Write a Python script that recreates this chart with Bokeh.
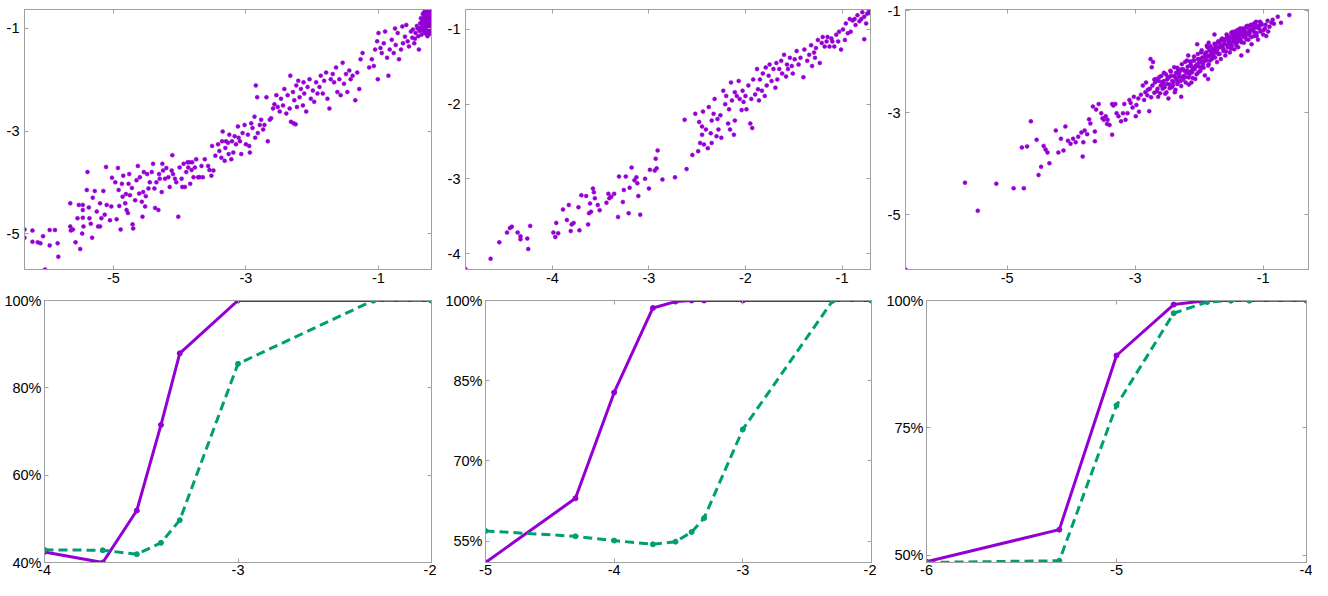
from bokeh.plotting import figure
from bokeh.layouts import column, row
from bokeh.models import Range1d, FixedTicker, LinearAxis, PrintfTickFormatter
from bokeh.embed import file_html
from bokeh.resources import INLINE

PURPLE = "#9400D3"
GREEN = "#009E73"
FRAME = "#a0a0a0"
FONT = "Liberation Sans"

# ---------------- data: top row scatter panels (x, y) ----------------
scatter_left = [
    (-6.34, -4.92), (-6.34, -5.08), (-6.22, -4.94), (-6.22, -5.16), (-6.14, -5.17), (-6.10, -5.19),
    (-6.06, -5.05), (-6.03, -5.70), (-5.96, -4.93), (-5.96, -5.23), (-5.88, -4.93), (-5.84, -5.19),
    (-5.83, -5.45), (-5.65, -4.41), (-5.65, -4.86), (-5.64, -4.94), (-5.61, -4.92), (-5.57, -5.17),
    (-5.54, -4.70), (-5.52, -4.44), (-5.50, -5.30), (-5.46, -4.44), (-5.46, -4.54), (-5.46, -4.69),
    (-5.45, -4.86), (-5.47, -5.00), (-5.40, -4.15), (-5.39, -3.80), (-5.37, -4.49), (-5.36, -4.70),
    (-5.34, -4.81), (-5.32, -5.08), (-5.31, -4.30), (-5.28, -4.17), (-5.25, -4.57), (-5.23, -4.86),
    (-5.20, -4.41), (-5.20, -4.86), (-5.18, -4.70), (-5.15, -4.17), (-5.13, -4.63), (-5.11, -3.70),
    (-5.10, -4.44), (-5.05, -4.74), (-5.03, -4.47), (-5.02, -3.91), (-4.97, -4.00), (-4.95, -4.72),
    (-4.93, -3.72), (-4.92, -4.15), (-4.91, -4.46), (-4.89, -4.92), (-4.87, -4.03), (-4.86, -4.28),
    (-4.85, -3.87), (-4.82, -4.41), (-4.81, -4.23), (-4.80, -4.54), (-4.78, -4.60), (-4.77, -4.03),
    (-4.76, -3.84), (-4.75, -4.25), (-4.72, -4.11), (-4.71, -4.82), (-4.70, -4.90), (-4.67, -4.35),
    (-4.65, -3.96), (-4.63, -3.68), (-4.61, -4.22), (-4.60, -3.90), (-4.57, -4.38), (-4.56, -4.67),
    (-4.55, -4.19), (-4.54, -3.80), (-4.52, -4.47), (-4.51, -4.27), (-4.49, -3.84), (-4.47, -4.12),
    (-4.45, -4.00), (-4.42, -3.80), (-4.40, -3.64), (-4.38, -4.12), (-4.37, -4.50), (-4.35, -4.00),
    (-4.32, -4.54), (-4.31, -3.84), (-4.30, -3.93), (-4.27, -4.19), (-4.26, -3.64), (-4.25, -3.77),
    (-4.22, -3.93), (-4.20, -3.72), (-4.17, -3.90), (-4.15, -4.09), (-4.12, -3.77), (-4.11, -3.47),
    (-4.10, -3.84), (-4.07, -3.93), (-4.05, -4.00), (-4.02, -4.67), (-4.00, -3.71), (-3.97, -3.93),
    (-3.96, -4.09), (-3.94, -3.64), (-3.92, -4.09), (-3.90, -3.80), (-3.88, -3.61), (-3.87, -3.71),
    (-3.85, -3.61), (-3.84, -4.03), (-3.82, -3.76), (-3.81, -3.61), (-3.79, -3.90), (-3.77, -3.71),
    (-3.75, -3.55), (-3.72, -3.90), (-3.70, -3.90), (-3.67, -3.68), (-3.65, -3.90), (-3.62, -3.55),
    (-3.57, -3.68), (-3.55, -3.76), (-3.52, -3.87), (-3.51, -3.29), (-3.49, -3.77), (-3.46, -3.48),
    (-3.42, -3.26), (-3.40, -3.39), (-3.37, -3.52), (-3.36, -3.20), (-3.35, -3.01), (-3.32, -3.58),
    (-3.31, -3.33), (-3.30, -3.20), (-3.27, -3.23), (-3.26, -3.45), (-3.25, -3.07), (-3.22, -3.55),
    (-3.21, -3.20), (-3.19, -3.42), (-3.17, -3.10), (-3.15, -3.26), (-3.12, -2.91), (-3.11, -3.13),
    (-3.09, -3.20), (-3.07, -3.45), (-3.05, -3.04), (-3.02, -2.88), (-3.00, -3.26), (-2.97, -3.07),
    (-2.95, -3.29), (-2.94, -3.42), (-2.92, -2.85), (-2.90, -2.94), (-2.87, -2.72), (-2.86, -3.13),
    (-2.85, -2.11), (-2.83, -2.34), (-2.82, -3.04), (-2.79, -2.88), (-2.77, -2.78), (-2.74, -2.97),
    (-2.72, -2.88), (-2.69, -2.34), (-2.67, -3.20), (-2.64, -2.78), (-2.62, -2.75), (-2.59, -2.56),
    (-2.57, -2.48), (-2.54, -2.30), (-2.52, -2.53), (-2.49, -2.62), (-2.47, -2.37), (-2.44, -2.50),
    (-2.42, -2.18), (-2.39, -2.66), (-2.37, -2.30), (-2.34, -2.56), (-2.33, -1.92), (-2.32, -2.82),
    (-2.29, -2.24), (-2.28, -2.85), (-2.27, -2.40), (-2.25, -2.87), (-2.24, -2.11), (-2.23, -2.53),
    (-2.21, -2.02), (-2.19, -2.34), (-2.17, -2.18), (-2.14, -2.50), (-2.13, -2.05), (-2.12, -2.27),
    (-2.09, -2.62), (-2.07, -2.14), (-2.04, -1.99), (-2.02, -2.37), (-1.99, -2.21), (-1.97, -2.43),
    (-1.94, -2.05), (-1.92, -2.27), (-1.89, -2.14), (-1.87, -1.92), (-1.84, -2.27), (-1.82, -2.02),
    (-1.79, -1.86), (-1.77, -2.37), (-1.74, -2.56), (-1.72, -1.99), (-1.69, -1.89), (-1.67, -2.05),
    (-1.64, -1.76), (-1.62, -2.24), (-1.59, -1.99), (-1.57, -2.30), (-1.54, -1.67), (-1.52, -2.08),
    (-1.49, -1.89), (-1.47, -2.24), (-1.44, -1.82), (-1.42, -1.99), (-1.39, -1.92), (-1.35, -2.40),
    (-1.32, -1.86), (-1.29, -2.18), (-1.27, -1.60), (-1.24, -1.48), (-1.14, -1.76), (-1.10, -1.60),
    (-1.07, -1.73), (-1.05, -1.41), (-1.02, -1.25), (-1.01, -1.99), (-1.00, -1.09), (-0.97, -1.38),
    (-0.95, -1.48), (-0.92, -1.29), (-0.90, -1.06), (-0.87, -1.57), (-0.85, -1.92), (-0.83, -1.41),
    (-0.80, -1.22), (-0.77, -1.48), (-0.75, -1.00), (-0.74, -1.32), (-0.71, -1.09), (-0.69, -1.60),
    (-0.66, -1.41), (-0.64, -0.96), (-0.63, -1.29), (-0.60, -1.16), (-0.58, -0.93), (-0.56, -1.25),
    (-0.54, -1.35), (-0.51, -1.06), (-0.49, -1.18), (-0.46, -1.29), (-0.44, -1.09), (-0.41, -1.00),
    (-0.39, -1.41), (-0.34, -0.85), (-0.33, -0.95), (-0.32, -1.05), (-0.31, -0.78), (-0.30, -0.90),
    (-0.30, -1.00), (-0.29, -0.70), (-0.29, -1.10), (-0.28, -0.82), (-0.28, -0.95), (-0.27, -0.65),
    (-0.27, -0.75), (-0.27, -1.02), (-0.26, -0.88), (-0.26, -0.68), (-0.25, -0.80), (-0.25, -0.93),
    (-0.25, -1.12), (-0.24, -0.72), (-0.24, -0.85), (-0.24, -0.98), (-0.23, -0.66), (-0.23, -0.78),
    (-0.23, -0.90), (-0.23, -1.05), (-0.22, -0.70), (-0.22, -0.83), (-0.22, -0.96), (-0.22, -0.64),
    (-0.21, -0.75), (-0.21, -0.88), (-0.21, -1.00), (-0.21, -0.67), (-0.35, -1.12), (-0.36, -0.98),
    (-0.37, -0.90), (-0.38, -1.05), (-0.32, -0.70), (-0.26, -1.15), (-0.30, -0.64),
    (-0.36, -0.80), (-0.34, -1.02), (-0.33, -0.72), (-0.31, -0.88), (-0.31, -1.08), (-0.30, -0.76),
    (-0.29, -0.84), (-0.29, -0.96), (-0.28, -0.68), (-0.28, -1.06), (-0.27, -0.86), (-0.26, -0.75),
    (-0.26, -0.98), (-0.25, -0.66), (-0.25, -0.86), (-0.24, -0.78), (-0.24, -1.08), (-0.23, -0.72),
    (-0.23, -0.95), (-0.22, -0.77), (-0.22, -1.10), (-0.21, -0.82), (-0.21, -0.94), (-0.40, -1.15),
    (-0.42, -0.95), (-0.45, -1.20), (-0.48, -1.02),
]

scatter_mid = [
    (-4.90, -4.21), (-4.64, -4.07), (-4.55, -3.85), (-4.47, -3.72), (-4.44, -3.66), (-4.42, -3.64),
    (-4.36, -3.72), (-4.33, -3.77), (-4.33, -3.81), (-4.26, -3.80), (-4.25, -3.94), (-4.23, -3.63),
    (-3.99, -3.72), (-3.97, -3.78), (-3.96, -3.59), (-3.94, -3.73), (-3.89, -3.41), (-3.85, -3.55),
    (-3.83, -3.35), (-3.81, -3.70), (-3.80, -3.61), (-3.78, -3.59), (-3.73, -3.38), (-3.72, -3.69),
    (-3.70, -3.22), (-3.65, -3.23), (-3.63, -3.61), (-3.62, -3.46), (-3.61, -3.33), (-3.60, -3.44),
    (-3.58, -3.13), (-3.57, -3.18), (-3.56, -3.26), (-3.53, -3.35), (-3.51, -3.42), (-3.44, -3.32),
    (-3.42, -3.20), (-3.41, -3.26), (-3.39, -3.24), (-3.36, -3.20), (-3.32, -3.51), (-3.31, -2.97),
    (-3.27, -3.31), (-3.26, -3.15), (-3.24, -2.97), (-3.21, -3.46), (-3.20, -3.12), (-3.18, -2.85),
    (-3.15, -3.02), (-3.13, -2.98), (-3.12, -3.06), (-3.11, -3.23), (-3.09, -3.48), (-3.04, -3.00),
    (-3.00, -3.13), (-2.99, -2.88), (-2.94, -2.89), (-2.93, -2.73), (-2.92, -2.86), (-2.91, -2.62),
    (-2.86, -3.01), (-2.73, -2.98), (-2.63, -2.21), (-2.61, -2.87), (-2.55, -2.68), (-2.52, -2.13),
    (-2.49, -2.63), (-2.48, -2.24), (-2.47, -2.52), (-2.45, -2.41), (-2.45, -2.30), (-2.44, -2.10),
    (-2.43, -2.54), (-2.41, -2.34), (-2.39, -2.59), (-2.38, -2.04), (-2.36, -2.39), (-2.35, -2.22),
    (-2.35, -2.52), (-2.33, -2.13), (-2.32, -1.93), (-2.30, -2.43), (-2.29, -2.20), (-2.28, -2.34),
    (-2.26, -2.15), (-2.25, -2.45), (-2.23, -1.82), (-2.21, -2.00), (-2.20, -1.89), (-2.18, -2.26),
    (-2.17, -2.07), (-2.16, -2.34), (-2.15, -1.71), (-2.14, -1.95), (-2.12, -2.41), (-2.11, -2.22),
    (-2.11, -1.84), (-2.09, -1.89), (-2.07, -1.69), (-2.06, -1.93), (-2.04, -2.08), (-2.03, -1.82),
    (-2.02, -1.97), (-2.00, -1.89), (-1.99, -2.07), (-1.97, -1.75), (-1.95, -2.26), (-1.94, -1.93),
    (-1.93, -2.32), (-1.92, -1.67), (-1.90, -1.87), (-1.88, -1.53), (-1.87, -1.80), (-1.86, -1.95),
    (-1.85, -1.67), (-1.83, -1.82), (-1.82, -1.59), (-1.80, -1.89), (-1.79, -1.51), (-1.78, -1.75),
    (-1.76, -1.62), (-1.75, -1.47), (-1.73, -1.69), (-1.71, -1.53), (-1.69, -1.78), (-1.68, -1.45),
    (-1.67, -1.67), (-1.65, -1.53), (-1.63, -1.42), (-1.62, -1.59), (-1.60, -1.34), (-1.58, -1.63),
    (-1.57, -1.47), (-1.56, -1.53), (-1.54, -1.38), (-1.52, -1.49), (-1.51, -1.59), (-1.49, -1.40),
    (-1.47, -1.29), (-1.45, -1.47), (-1.43, -1.38), (-1.40, -1.64), (-1.39, -1.27), (-1.36, -1.42),
    (-1.34, -1.34), (-1.32, -1.21), (-1.31, -1.49), (-1.29, -1.31), (-1.28, -1.38), (-1.27, -1.25),
    (-1.25, -1.14), (-1.23, -1.45), (-1.21, -1.18), (-1.20, -1.10), (-1.18, -1.23), (-1.16, -1.16),
    (-1.15, -1.10), (-1.13, -1.23), (-1.11, -1.12), (-1.10, -1.16), (-1.08, -1.23), (-1.06, -1.07),
    (-1.04, -1.16), (-1.03, -1.03), (-1.01, -1.27), (-0.99, -1.00), (-0.97, -1.14), (-0.96, -0.92),
    (-0.94, -1.05), (-0.92, -0.86), (-0.91, -1.03), (-0.89, -0.88), (-0.87, -0.86), (-0.86, -0.94),
    (-0.84, -0.81), (-0.82, -0.89), (-0.80, -0.86), (-0.79, -0.77), (-0.77, -0.83), (-0.77, -1.13),
    (-0.75, -0.92), (-0.74, -0.79), (-0.72, -0.75), (-0.71, -0.78),
]

scatter_right = [
    (-6.59, -6.07), (-5.66, -4.37), (-5.46, -4.92), (-5.17, -4.39), (-4.90, -4.48), (-4.74, -4.48),
    (-4.77, -3.68), (-4.69, -3.66), (-4.63, -3.17), (-4.54, -3.53), (-4.51, -4.22), (-4.47, -4.06),
    (-4.43, -3.65), (-4.40, -3.72), (-4.37, -3.78), (-4.34, -3.99), (-4.24, -3.35), (-4.20, -3.78),
    (-4.16, -3.51), (-4.12, -3.74), (-4.09, -3.27), (-4.05, -3.55), (-4.01, -3.61), (-3.97, -3.51),
    (-3.93, -3.58), (-3.89, -3.47), (-3.84, -3.39), (-3.82, -3.86), (-3.81, -3.58), (-3.79, -3.35),
    (-3.75, -3.42), (-3.72, -3.13), (-3.70, -3.21), (-3.66, -2.88), (-3.63, -3.37), (-3.63, -3.56),
    (-3.61, -2.94), (-3.57, -2.83), (-3.53, -3.01), (-3.51, -3.11), (-3.49, -3.14), (-3.46, -3.07),
    (-3.44, -3.22), (-3.43, -3.14), (-3.40, -3.24), (-3.36, -3.43), (-3.36, -2.83), (-3.34, -2.86),
    (-3.31, -2.83), (-3.29, -3.01), (-3.26, -3.07), (-3.22, -3.17), (-3.19, -3.01), (-3.17, -2.83),
    (-3.15, -3.14), (-3.12, -3.01), (-3.09, -2.75), (-3.07, -2.81), (-3.04, -2.90), (-3.02, -2.69),
    (-2.99, -3.07), (-2.98, -2.85), (-2.95, -2.72), (-2.94, -2.98), (-2.91, -2.65), (-2.88, -2.47),
    (-2.86, -2.75), (-2.84, -2.60), (-2.83, -2.41), (-2.81, -2.66), (-2.78, -2.97), (-2.77, -2.53),
    (-2.76, -1.95), (-2.74, -2.11), (-2.73, -2.47), (-2.72, -2.01), (-2.70, -2.61), (-2.69, -2.41),
    (-2.67, -2.34), (-2.65, -2.53), (-2.64, -2.69), (-2.63, -2.38), (-2.60, -2.47), (-2.59, -2.28),
    (-2.57, -2.53), (-2.55, -2.38), (-2.53, -2.63), (-2.52, -2.25), (-2.50, -2.44), (-2.48, -2.72),
    (-2.47, -2.31), (-2.45, -2.18), (-2.43, -2.50), (-2.42, -2.38), (-2.39, -2.11), (-2.38, -2.60),
    (-2.37, -2.31), (-2.34, -2.44), (-2.33, -2.15), (-2.32, -2.25), (-2.29, -2.38), (-2.28, -2.69),
    (-2.27, -2.15), (-2.24, -2.28), (-2.22, -2.01), (-2.21, -2.41), (-2.19, -2.18), (-2.17, -1.88),
    (-2.16, -2.31), (-2.14, -2.08), (-2.12, -2.41), (-2.11, -2.21), (-2.08, -1.98), (-2.07, -2.15),
    (-2.06, -2.34), (-2.03, -1.66), (-2.03, -2.05), (-2.01, -2.21), (-1.99, -1.95), (-1.97, -1.82),
    (-1.96, -2.11), (-1.93, -2.01), (-1.91, -2.27), (-1.90, -1.88), (-1.88, -1.69), (-1.86, -2.08),
    (-1.86, -2.34), (-1.85, -1.63), (-1.83, -1.98), (-1.81, -1.82), (-1.80, -2.15), (-1.78, -1.91),
    (-1.76, -1.47), (-1.75, -1.76), (-1.72, -2.01), (-1.71, -1.63), (-1.70, -1.85), (-1.67, -1.72),
    (-1.66, -1.95), (-1.65, -1.56), (-1.62, -1.79), (-1.61, -1.66), (-1.59, -1.88), (-1.57, -1.47),
    (-1.55, -1.72), (-1.54, -1.60), (-1.52, -1.82), (-1.50, -1.44), (-1.49, -1.69), (-1.47, -1.53),
    (-1.45, -1.76), (-1.44, -1.41), (-1.41, -1.63), (-1.40, -1.47), (-1.39, -1.72), (-1.36, -1.35),
    (-1.35, -1.57), (-1.34, -1.88), (-1.31, -1.41), (-1.30, -1.63), (-1.28, -1.50), (-1.26, -1.31),
    (-1.24, -1.79), (-1.23, -1.57), (-1.21, -1.44), (-1.19, -1.28), (-1.18, -1.66), (-1.16, -1.38),
    (-1.14, -1.50), (-1.13, -1.25), (-1.10, -1.44), (-1.09, -1.33), (-1.08, -1.57), (-1.05, -1.22),
    (-1.04, -1.41), (-1.02, -1.28), (-1.00, -1.47), (-0.97, -1.35), (-0.95, -1.50), (-0.92, -1.41),
    (-0.87, -1.24), (-0.83, -1.26), (-0.77, -1.12), (-0.72, -1.24), (-0.59, -1.09), (-0.29, -0.98),
    (-2.58, -2.40), (-2.54, -2.50), (-2.50, -2.35), (-2.46, -2.45), (-2.44, -2.28), (-2.40, -2.40),
    (-2.36, -2.22), (-2.35, -2.35), (-2.31, -2.30), (-2.30, -2.18), (-2.26, -2.30), (-2.25, -2.15),
    (-2.20, -2.22), (-2.18, -2.10), (-2.15, -2.25), (-2.13, -2.05), (-2.10, -2.12), (-2.09, -1.98),
    (-2.05, -2.08), (-2.02, -1.95), (-2.00, -2.10), (-1.98, -2.00), (-1.95, -1.92), (-1.94, -2.05),
    (-1.90, -1.95), (-1.89, -1.82), (-1.86, -1.90), (-1.84, -1.78), (-1.82, -1.88), (-1.79, -1.75),
    (-1.77, -1.85), (-1.74, -1.70), (-1.73, -1.80), (-1.69, -1.72), (-1.68, -1.62), (-1.64, -1.70),
    (-1.63, -1.58), (-1.60, -1.65), (-1.58, -1.55), (-1.56, -1.68), (-1.53, -1.52), (-1.51, -1.62),
    (-1.48, -1.50), (-1.46, -1.58), (-1.43, -1.45), (-1.42, -1.55), (-1.38, -1.42), (-1.37, -1.52),
    (-1.33, -1.40), (-1.32, -1.48), (-1.29, -1.36), (-1.27, -1.45), (-1.25, -1.33), (-1.22, -1.40),
    (-1.20, -1.30), (-1.17, -1.36), (-1.15, -1.27), (-1.12, -1.33), (-1.11, -1.22), (-1.07, -1.30),
    (-2.80, -2.55), (-2.75, -2.70), (-2.70, -2.35), (-2.66, -2.58), (-2.62, -2.30), (-2.61, -2.62),
    (-2.56, -2.45), (-2.55, -2.22), (-2.51, -2.60), (-2.49, -2.30), (-2.46, -2.52), (-2.44, -2.20),
    (-2.41, -2.47), (-2.39, -2.28), (-2.37, -2.55), (-2.34, -2.12), (-2.33, -2.40), (-2.31, -2.22),
    (-2.28, -2.48), (-2.27, -2.05), (-2.25, -2.35), (-2.23, -2.18), (-2.21, -2.30), (-2.19, -1.98),
    (-2.17, -2.20), (-2.16, -2.45), (-2.14, -2.00), (-2.12, -2.18), (-2.10, -2.32), (-2.08, -1.90),
    (-2.06, -2.10), (-2.04, -2.25), (-2.02, -1.85), (-2.00, -2.02), (-1.98, -2.18), (-1.96, -1.78),
    (-1.95, -2.00), (-1.93, -2.12), (-1.91, -1.85), (-1.89, -1.98), (-1.87, -1.72), (-1.85, -2.05),
    (-1.84, -1.88), (-1.82, -1.70), (-1.80, -1.95), (-1.78, -1.80), (-1.76, -1.65), (-1.75, -1.92),
    (-1.72, -1.78), (-1.70, -1.60), (-1.68, -1.85), (-1.66, -1.68), (-1.64, -1.55), (-1.62, -1.75),
    (-1.60, -1.58), (-1.58, -1.80), (-1.56, -1.50), (-1.54, -1.66), (-1.52, -1.55), (-1.50, -1.75),
    (-1.48, -1.42), (-1.46, -1.62), (-1.44, -1.50), (-1.42, -1.68), (-1.40, -1.38), (-1.38, -1.58),
    (-1.36, -1.46), (-1.34, -1.62), (-1.32, -1.35), (-1.30, -1.52), (-1.28, -1.42), (-1.26, -1.56),
    (-1.24, -1.30), (-1.22, -1.48), (-1.20, -1.38), (-1.18, -1.52), (-1.16, -1.28), (-1.14, -1.42),
    (-1.12, -1.30), (-1.10, -1.50), (-1.06, -1.35), (-1.03, -1.25), (-0.99, -1.38), (-0.96, -1.28),
    (-0.93, -1.20), (-0.90, -1.32), (-0.85, -1.18),
]

# ---------------- data: bottom row line panels ----------------
x_left = [-4, -3.699, -3.523, -3.398, -3.301, -3, -2.301, -2]
solid_left = [42.4, 40.0, 51.9, 71.5, 87.9, 100, 100, 100]
dashed_left = [42.9, 42.8, 41.9, 44.5, 49.7, 85.5, 100, 100]

x_mid = [-5, -4.301, -4, -3.699, -3.523, -3.398, -3.301, -3, -2.301, -2]
solid_mid = [51.0, 63.0, 82.8, 98.6, 99.8, 100, 100, 100, 100, 100]
dashed_mid = [56.9, 55.9, 55.1, 54.4, 54.9, 56.7, 59.3, 75.9, 100, 100]

x_right = [-6, -5.301, -5, -4.699, -4.523, -4.398, -4.301, -4]
solid_right = [48.7, 55.0, 89.2, 99.2, 100, 100, 100, 100]
dashed_right = [48.55, 48.9, 79.4, 97.5, 99.7, 100, 100, 100]

# tick values
top_xticks = [[-5, -3, -1], [-4, -3, -2, -1], [-5, -3, -1]]
top_yticks = [[-1, -3, -5], [-1, -2, -3, -4], [-1, -3, -5]]
bot_xticks = [[-4, -3, -2], [-5, -4, -3, -2], [-6, -5, -4]]
bot_yticks = [[40, 60, 80, 100], [55, 70, 85, 100], [50, 75, 100]]


def style_axis(ax, standoff):
    ax.axis_line_color = FRAME
    ax.major_tick_line_color = FRAME
    ax.major_tick_in = 4
    ax.major_tick_out = 0
    ax.minor_tick_line_color = None
    ax.major_label_text_font = FONT
    ax.major_label_text_font_size = "14.5px"
    ax.major_label_text_color = "black"
    ax.major_label_standoff = standoff


def make_fig(width, height, xr, yr, borders, xt, yt, pct, xstand, ystand):
    l, r, t, b = borders
    p = figure(width=width, height=height, x_range=Range1d(*xr), y_range=Range1d(*yr),
               output_backend="svg", toolbar_location=None,
               min_border_left=l, min_border_right=r, min_border_top=t, min_border_bottom=b)
    p.title.visible = False
    p.xgrid.visible = False
    p.ygrid.visible = False
    p.outline_line_color = FRAME
    p.background_fill_color = "white"
    p.border_fill_color = "white"
    p.xaxis.ticker = FixedTicker(ticks=xt)
    p.yaxis.ticker = FixedTicker(ticks=yt)
    for ax in p.xaxis:
        style_axis(ax, xstand)
    for ax in p.yaxis:
        style_axis(ax, ystand)
    p.xaxis.formatter = PrintfTickFormatter(format="%d")
    if pct:
        p.yaxis.formatter = PrintfTickFormatter(format="%d%%")
    else:
        p.yaxis.formatter = PrintfTickFormatter(format="%d")
    # mirrored inward ticks on the top and right edges (no labels)
    top = LinearAxis(ticker=FixedTicker(ticks=xt))
    style_axis(top, 0)
    top.major_label_text_font_size = "0px"
    top.major_label_text_color = None
    p.add_layout(top, "above")
    right = LinearAxis(ticker=FixedTicker(ticks=yt))
    style_axis(right, 0)
    right.major_label_text_font_size = "0px"
    right.major_label_text_color = None
    p.add_layout(right, "right")
    return p


TOP_H = 289
BOT_H = 291

top_specs = [
    (436, (-6.34, -0.20), (-5.70, -0.63), (24, 5, 9, 20), scatter_left),
    (439, (-4.90, -0.705), (-4.214, -0.733), (29, 5, 9, 20), scatter_mid),
    (437, (-6.59, -0.29), (-6.07, -0.98), (30, 4, 9, 20), scatter_right),
]
top_figs = []
for i, (w, xr, yr, bd, pts) in enumerate(top_specs):
    p = make_fig(w, TOP_H, xr, yr, bd, top_xticks[i], top_yticks[i], False, 3, 5)
    xs = [q[0] for q in pts]
    ys = [q[1] for q in pts]
    p.scatter(xs, ys, marker="circle", size=4, fill_color=PURPLE, line_color=PURPLE, line_width=0.5)
    top_figs.append(p)

bot_specs = [
    (436, (-4, -2), (40, 100), (44, 5, 11, 18), x_left, solid_left, dashed_left),
    (440, (-5, -2), (51.0, 100), (49, 5, 11, 18), x_mid, solid_mid, dashed_mid),
    (436, (-6, -4), (48.55, 100), (50, 6, 11, 18), x_right, solid_right, dashed_right),
]
bot_figs = []
for i, (w, xr, yr, bd, xs, s1, s2) in enumerate(bot_specs):
    p = make_fig(w, BOT_H, xr, yr, bd, bot_xticks[i], bot_yticks[i], True, 2, 3)
    p.line(xs, s1, line_color=PURPLE, line_width=3)
    p.scatter(xs, s1, marker="circle", size=5, fill_color=PURPLE, line_color=PURPLE)
    p.line(xs, s2, line_color=GREEN, line_width=3, line_dash="9 5")
    p.scatter(xs, s2, marker="circle", size=5, fill_color=GREEN, line_color=GREEN)
    bot_figs.append(p)

layout = column(row(*top_figs), row(*bot_figs))

with open("out.html", "w") as f:
    f.write(file_html(layout, INLINE))
